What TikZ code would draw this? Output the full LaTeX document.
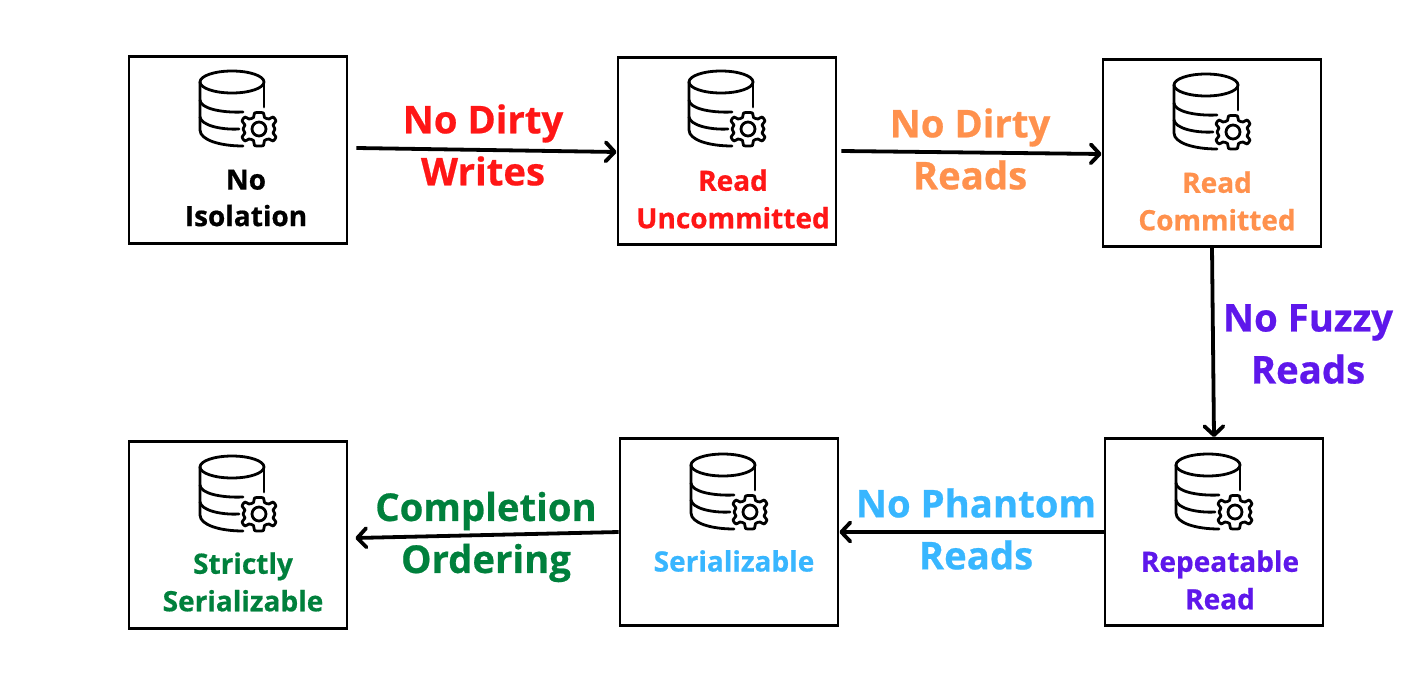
\documentclass[tikz,border=0pt]{standalone}
\usepackage{fontspec}
\setmainfont{Open Sans}[BoldFeatures={FakeBold=0.6}]
\usetikzlibrary{arrows.meta}
\definecolor{cred}{HTML}{FF1616}
\definecolor{corange}{HTML}{FF914D}
\definecolor{cviolet}{HTML}{5E17EB}
\definecolor{cblue}{HTML}{38B6FF}
\definecolor{cgreen}{HTML}{00803C}
\tikzset{
 x=1pt,y=-1pt,
 box/.style={draw=black,line width=2.8pt,minimum width=218pt,minimum height=187pt,inner sep=0pt,fill=white},
 flow/.style={line width=3.8pt,draw=black,-{Straight Barb[length=9pt,width=19pt,line width=3.8pt,round]}},
 boxtext/.style={font=\fontsize{#1}{37.5}\selectfont\bfseries,align=center,inner sep=0pt},
 boxtext/.default={28},
 edgetext/.style={font=\fontsize{38.3}{52}\selectfont\bfseries,align=center,inner sep=0pt},
 icon/.pic={
  \begin{scope}[line width=2.8pt,line cap=round,line join=round,draw=black]
   \draw (232,82) ellipse [x radius=32,y radius=11];
   \draw (200,82) -- (200,130) .. controls (200,140) and (220,146) .. (243,146);
   \draw (264,82) -- (264,107);
   \draw (200,100) .. controls (200,108) and (220,113) .. (243,112);
   \draw (200,117) .. controls (201,125) and (220,130) .. (239,129);
   \draw (259,129) circle (7);
   \draw plot[smooth cycle,tension=.45] coordinates {
    (259,112.5)(263.5,113)(264.5,117.5)(269,119)(273,117)(276,121)(273,125)(275,129)
    (273,133)(276,137)(273,141)(269,139)(264.5,140.5)(263.5,145.5)(259,146)(254.5,145.5)
    (253.5,140.5)(249,139)(245,141)(242,137)(245,133)(243,129)(245,125)(242,121)(245,117)(249,119)(253.5,117.5)(254.5,113)};
  \end{scope}}
}
\begin{document}
\begin{tikzpicture}
\useasboundingbox (0,0) rectangle (1420,682);
\node[box] (a) at (238,150) {};
\node[box] (b) at (727,151) {};
\node[box] (c) at (1212,153) {};
\node[box] (d) at (1214,532) {};
\node[box] (e) at (729,532) {};
\node[box] (f) at (238,535) {};
\pic at (0,0) {icon};
\pic at (489,0) {icon};
\pic at (974,3) {icon};
\pic at (976,383) {icon};
\pic at (491,383) {icon};
\pic at (0,385) {icon};
\node[boxtext=28] (ta) at (246,198) {No\\[-1pt]Isolation};
\node[boxtext,text=cred] (tb) at (733,199) {Read\\Uncommitted};
\node[boxtext,text=corange] (tc) at (1217,201) {Read\\Committed};
\node[boxtext,text=cviolet] (td) at (1220,580) {Repeatable\\Read};
\node[boxtext,text=cblue] (te) at (734,561) {Serializable};
\node[boxtext,text=cgreen] (tf) at (243,582) {Strictly\\Serializable};
\node[edgetext,text=cred] (la) at (483,145) {No Dirty\\Writes};
\node[edgetext,text=corange] (lb) at (970,149) {No Dirty\\Reads};
\node[edgetext,text=cviolet] (lc) at (1308,344) {No Fuzzy\\Reads};
\node[edgetext,text=cblue] (ld) at (976,529) {No Phantom\\Reads};
\node[edgetext,text=cgreen] (le) at (486,537) {Completion\\Ordering};
\coordinate (a1) at ([xshift=8pt,yshift=2pt]a.east);
\coordinate (b0) at ([yshift=-1pt]b.west);
\coordinate (b1) at ([xshift=4pt]b.east);
\coordinate (c0) at ([yshift=-1pt]c.west);
\coordinate (f1) at ([xshift=7pt,yshift=-3pt]f.east);
\draw[flow] (a1) -- (b0);
\draw[flow] (b1) -- (c0);
\draw[flow] (c.south) -- (d.north);
\draw[flow] (d.west) -- (e.east);
\draw[flow] (e.west) -- (f1);
\end{tikzpicture}
\end{document}
